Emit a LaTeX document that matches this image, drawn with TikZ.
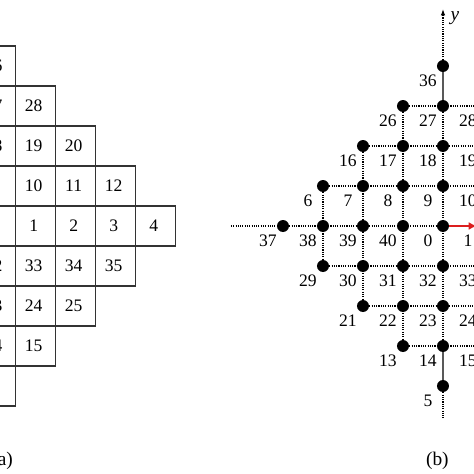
\documentclass[tikz,border=0pt]{standalone}
\usepackage{fontspec}
\setmainfont{Liberation Serif}
\usetikzlibrary{arrows.meta}

\begin{document}
\begin{tikzpicture}[
    x=0.8cm, y=0.8cm,
    >=Stealth,
    every node/.style={font=\fontsize{10}{12}\selectfont},
    cellbox/.style={draw=black!80, line width=0.75pt, minimum size=0.8cm, inner sep=0pt},
    latdot/.style={circle, fill=black, inner sep=0pt, minimum size=0.24cm},
    latline/.style={black, line width=0.6pt, dash pattern=on 0.6pt off 0.7pt},
    axisline/.style={black!65, line width=0.9pt},
    panel/.style={font=\fontsize{11}{13}\selectfont},
]

\definecolor{axisRed}{RGB}{220,30,30}

% crop of the figure
\clip (0,0) rectangle (11.85,11.85);

% lattice sites: number/column/row
\def\sites{0/0/0, 1/1/0, 2/2/0, 3/3/0, 4/4/0, 5/0/-4,
    6/-3/1, 7/-2/1, 8/-1/1, 9/0/1, 10/1/1, 11/2/1, 12/3/1,
    13/-1/-3, 14/0/-3, 15/1/-3,
    16/-2/2, 17/-1/2, 18/0/2, 19/1/2, 20/2/2,
    21/-2/-2, 22/-1/-2, 23/0/-2, 24/1/-2, 25/2/-2,
    26/-1/3, 27/0/3, 28/1/3,
    29/-3/-1, 30/-2/-1, 31/-1/-1, 32/0/-1, 33/1/-1, 34/2/-1, 35/3/-1,
    36/0/4, 37/-4/0, 38/-3/0, 39/-2/0, 40/-1/0}

% ============================================================
% (a) CELL GRID
% ============================================================
\begin{scope}[shift={(-0.1075,6.2)}]
    \foreach \n/\i/\j in \sites
        \node[cellbox] (cell\n) at (\i,\j) {\hspace*{-0.08cm}\n};
    \node[panel] (labA) at (0.16,-5.86) {(a)};
\end{scope}

% ============================================================
% (b) LATTICE
% ============================================================
\begin{scope}[shift={(11.075,6.2)}]
    \coordinate (xleft) at (-5.3,0);
    \coordinate (ytop) at (0,5.42);
    \coordinate (ybot) at (0,-4.8);

    % sites and their numbers
    \foreach \n/\i/\j in \sites {
        \node[latdot] (dot\n) at (\i,\j) {};
        \node (num\n) at ({\i-0.375},{\j-0.375}) {\n};
    }

    % rows and columns
    \foreach \a/\b in {26/28, 16/20, 6/12, 37/0, 1/4, 29/35, 21/25, 13/15,
                       6/29, 16/21, 26/13, 27/14, 28/15, 20/25, 12/35}
        \draw[latline] (dot\a) -- (dot\b);

    % axes
    \draw[latline] (xleft) -- (dot37);
    \draw[latline, -{Latex[length=3.5pt,width=2.6pt]}] (dot36) -- (ytop);
    \draw[latline] (dot5) -- (ybot);
    \draw[axisline] (dot36) -- (dot27);
    \draw[axisline] (dot14) -- (dot5);
    \draw[axisRed, line width=1.4pt, -{Latex[length=4.5pt,width=4.5pt]}] (dot0) -- (dot1);
    \node[panel] (ylab) at (0.3,5.2) {\textit{y}};

    \node[panel] (labB) at (-0.14,-5.86) {(b)};
\end{scope}

\end{tikzpicture}
\end{document}
